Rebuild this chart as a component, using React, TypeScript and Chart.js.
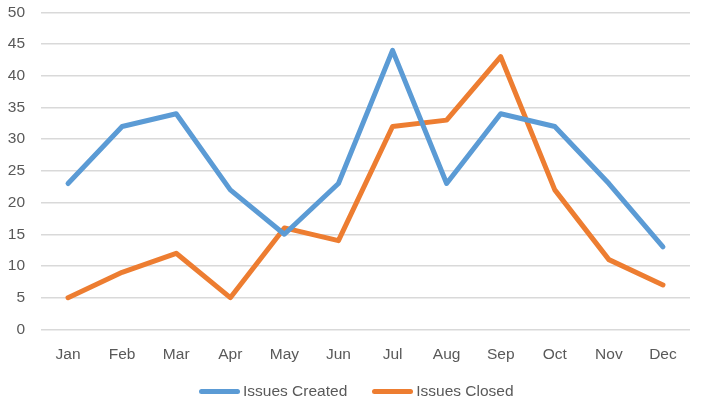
import { useEffect, useRef } from "react"
import { Chart, registerables } from "chart.js"

Chart.register(...registerables)

const months = ["Jan", "Feb", "Mar", "Apr", "May", "Jun", "Jul", "Aug", "Sep", "Oct", "Nov", "Dec"]
const issuesCreated = [23, 32, 34, 22, 15, 23, 44, 23, 34, 32, 23, 13]
const issuesClosed = [5, 9, 12, 5, 16, 14, 32, 33, 43, 22, 11, 7]

const seriesNames = ["Issues Created", "Issues Closed"]
const seriesColors = ["#5b9bd5", "#ed7d31"]

const textColor = "#595959"
const fontFamily = "'Liberation Sans', Arial, sans-serif"

export default function App() {
  const chartRef = useRef<HTMLCanvasElement>(null)

  useEffect(() => {
    document.body.style.margin = "0"
    if (!chartRef.current) return
    const ctx = chartRef.current.getContext("2d")
    if (!ctx) return

    const series = [issuesCreated, issuesClosed]

    const chart = new Chart(ctx, {
      type: "line",
      data: {
        labels: months,
        datasets: series.map((values, i) => ({
          label: seriesNames[i],
          data: values,
          borderColor: seriesColors[i],
          backgroundColor: seriesColors[i],
          borderWidth: 5,
          pointRadius: 0,
          tension: 0,
          borderCapStyle: "round" as const,
          borderJoinStyle: "round" as const,
        })),
      },
      options: {
        responsive: false,
        animation: false,
        layout: { padding: { top: 0, right: 13, left: 0, bottom: 39 } },
        plugins: {
          tooltip: { enabled: false },
          legend: { display: false },
        },
        scales: {
          x: {
            offset: true,
            grid: { display: false },
            border: { display: false },
            ticks: { color: textColor, font: { family: fontFamily, size: 15.5 }, padding: 8 },
          },
          y: {
            min: 0,
            max: 50,
            afterFit: (axis) => {
              axis.width = 41
            },
            grid: { color: "#d9d9d9", lineWidth: 1.5, drawTicks: false },
            border: { display: false },
            ticks: {
              stepSize: 5,
              color: textColor,
              font: { family: fontFamily, size: 15.5 },
              padding: 16,
            },
          },
        },
      },
    })

    return () => {
      chart.destroy()
    }
  }, [])

  return (
    <div style={{ position: "relative", width: 703, height: 411, background: "#fff", overflow: "hidden" }}>
      <canvas ref={chartRef} width={703} height={424} style={{ display: "block", marginTop: -13 }} />
      <div
        style={{
          position: "absolute",
          left: 199,
          top: 381,
          display: "flex",
          alignItems: "center",
          gap: 25,
          fontFamily,
          fontSize: 15.5,
          color: textColor,
          lineHeight: "20px",
        }}
      >
        {seriesNames.map((name, i) => (
          <div key={name} style={{ display: "flex", alignItems: "center" }}>
            <span
              style={{
                display: "inline-block",
                width: 41,
                height: 5,
                borderRadius: 3,
                background: seriesColors[i],
                marginRight: 3,
              }}
            />
            <span>{name}</span>
          </div>
        ))}
      </div>
    </div>
  )
}
